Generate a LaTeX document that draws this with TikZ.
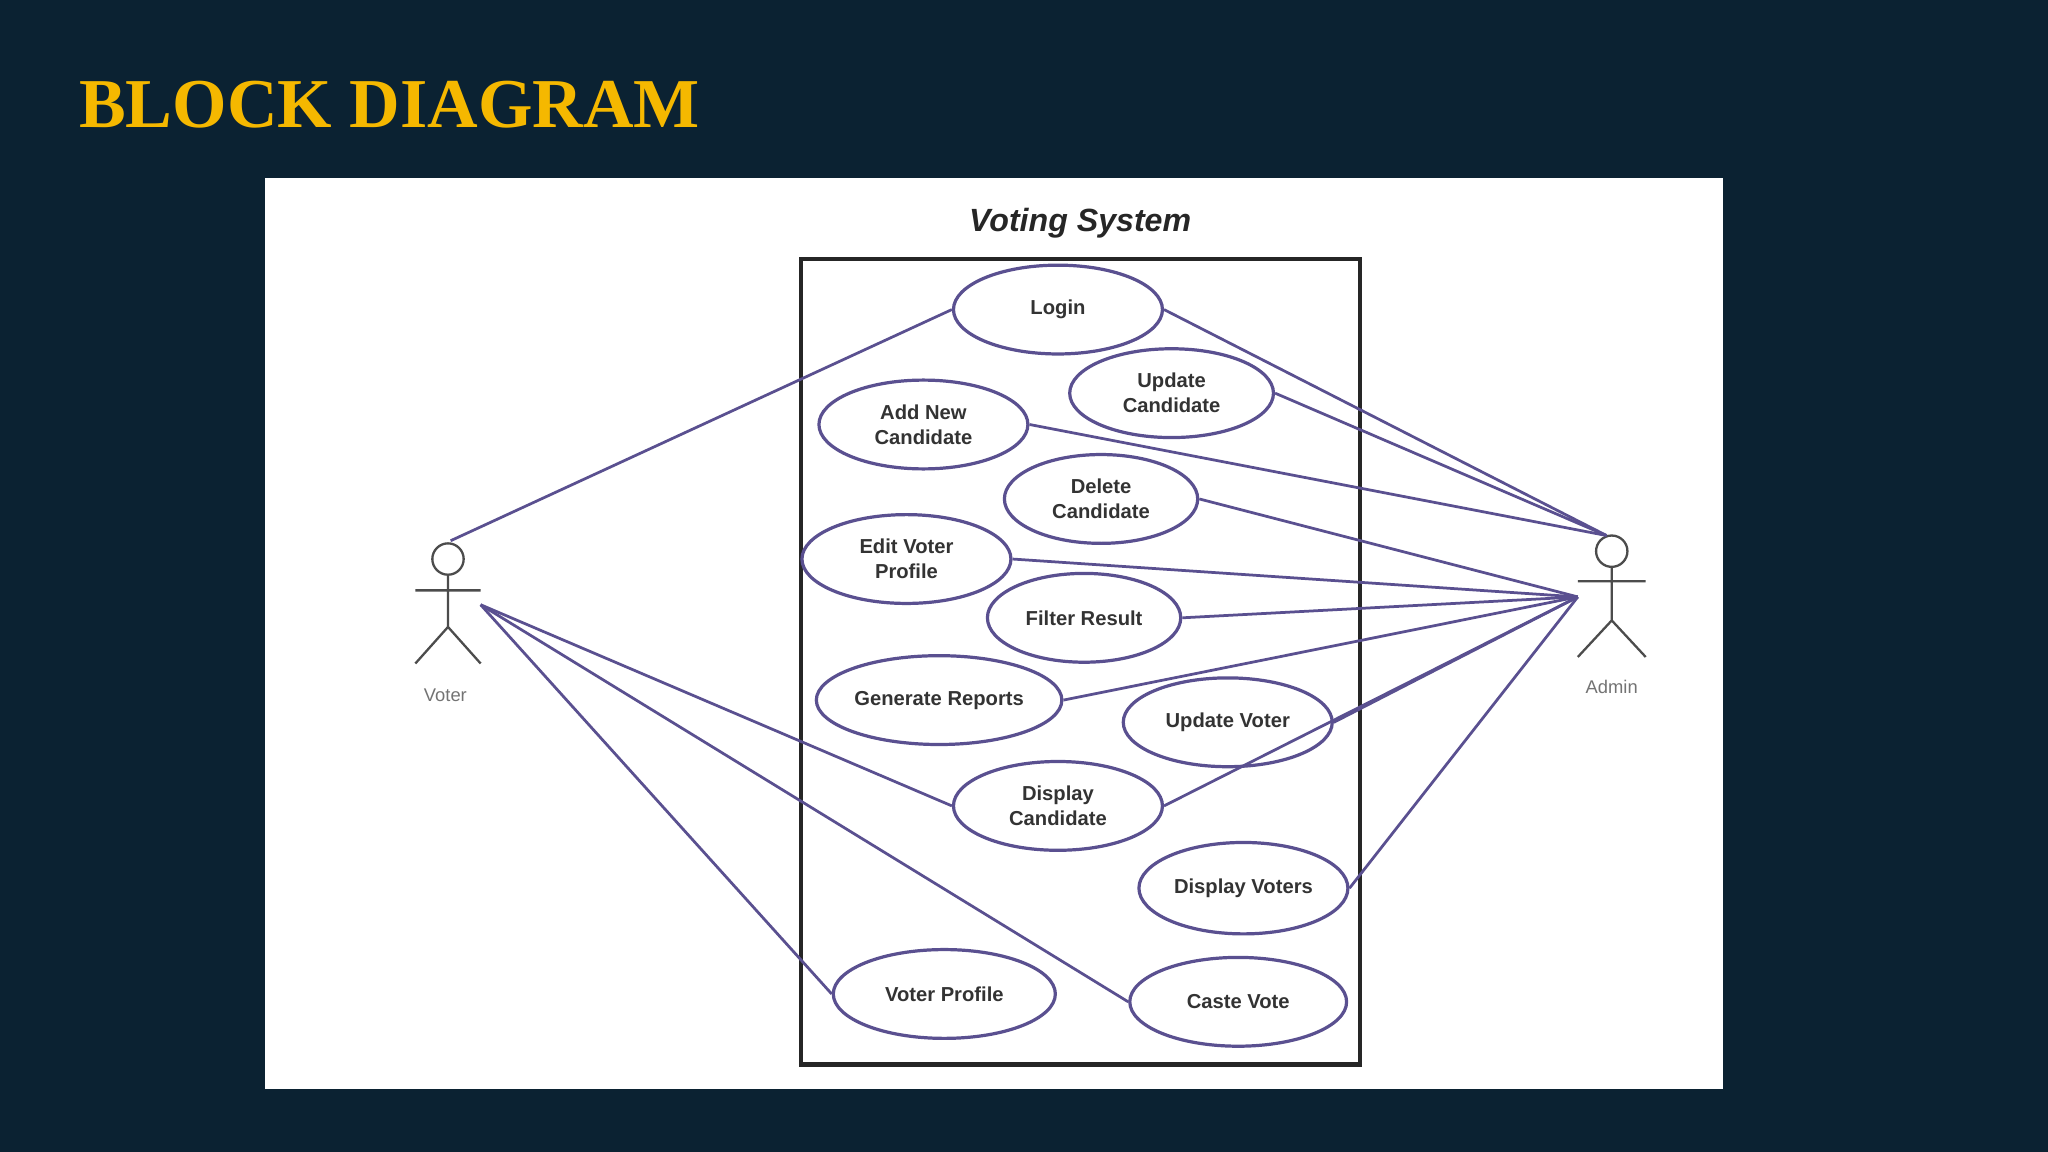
\documentclass[tikz,border=0pt]{standalone}
\usepackage{fontspec}
\setmainfont{Liberation Sans}
\newfontfamily\titlefont{Liberation Serif}
\usetikzlibrary{shapes.geometric}
\definecolor{bg}{HTML}{0B2232}
\definecolor{ttl}{HTML}{F5B800}
\definecolor{ln}{HTML}{5A5090}
\begin{document}
\begin{tikzpicture}[x=0.1mm,y=-0.1mm,
  uc/.style={draw=ln,line width=0.7pt,ellipse,fill=white,inner sep=0pt,align=center,font=\fontsize{4.4}{5.4}\selectfont\bfseries,text=black!80},
  con/.style={draw=ln,line width=0.6pt},
  act/.style={draw=black!70,line width=0.5pt}]
\fill[bg] (0,0) rectangle (1568,882);
\useasboundingbox (0,0) rectangle (1568,882);
\node[anchor=west,text=ttl,inner sep=0pt] (title) at (60,80) {\resizebox{4.75cm}{!}{\titlefont\bfseries BLOCK DIAGRAM}};
\fill[white] (203,136) rectangle (1319,834);
\node (sys) at (827,171) {\fontsize{7}{8}\selectfont\bfseries\itshape\color{black!85}Voting System};
\draw[black!85,line width=0.9pt] (613,198) rectangle (1041,815);
\node[uc,minimum width=16mm,minimum height=6.8mm] (login) at (810,237) {Login};
\node[uc,minimum width=15.6mm,minimum height=6.8mm] (updc) at (897,301) {Update\\Candidate};
\node[uc,minimum width=16mm,minimum height=6.8mm] (addc) at (707,325) {Add New\\Candidate};
\node[uc,minimum width=14.8mm,minimum height=6.8mm] (delc) at (843,382) {Delete\\Candidate};
\node[uc,minimum width=16mm,minimum height=6.8mm] (edit) at (694,428) {Edit Voter\\Profile};
\node[uc,minimum width=14.8mm,minimum height=6.8mm] (filt) at (830,473) {Filter Result};
\node[uc,minimum width=18.8mm,minimum height=6.8mm] (gen) at (719,536) {Generate Reports};
\node[uc,minimum width=16mm,minimum height=6.8mm] (updv) at (940,553) {Update Voter};
\node[uc,minimum width=16mm,minimum height=6.8mm] (disc) at (810,617) {Display\\Candidate};
\node[uc,minimum width=16mm,minimum height=7mm] (disv) at (952,680) {Display Voters};
\node[uc,minimum width=17mm,minimum height=6.8mm] (vprof) at (723,761) {Voter Profile};
\node[uc,minimum width=16.6mm,minimum height=6.8mm] (caste) at (948,767) {Caste Vote};
\draw[act] (343,428) circle[radius=12];
\draw[act] (343,440) -- (343,480) (318,452) -- (368,452) (318,508) -- (343,480) -- (368,508);
\node[text=black!55,font=\fontsize{4}{5}\selectfont] (vlab) at (341,532) {Voter};
\draw[act] (1234,422) circle[radius=12];
\draw[act] (1234,434) -- (1234,475) (1208,445) -- (1260,445) (1208,503) -- (1234,475) -- (1260,503);
\node[text=black!55,font=\fontsize{4}{5}\selectfont] (alab) at (1234,526) {Admin};
\coordinate (vh) at (345,414);
\coordinate (vb) at (368,463);
\coordinate (ah) at (1230,410);
\coordinate (ab) at (1208,457);
\draw[con] (vh) -- (login.west);
\draw[con] (vb) -- (disc.west);
\draw[con] (vb) -- (caste.west);
\draw[con] (vb) -- (vprof.west);
\draw[con] (ah) -- (login.east);
\draw[con] (ah) -- (updc.east);
\draw[con] (ah) -- (addc.east);
\draw[con] (ab) -- (delc.east);
\draw[con] (ab) -- (edit.east);
\draw[con] (ab) -- (filt.east);
\draw[con] (ab) -- (gen.east);
\draw[con] (ab) -- (updv.east);
\draw[con] (ab) -- (disc.east);
\draw[con] (ab) -- (disv.east);
\end{tikzpicture}
\end{document}
